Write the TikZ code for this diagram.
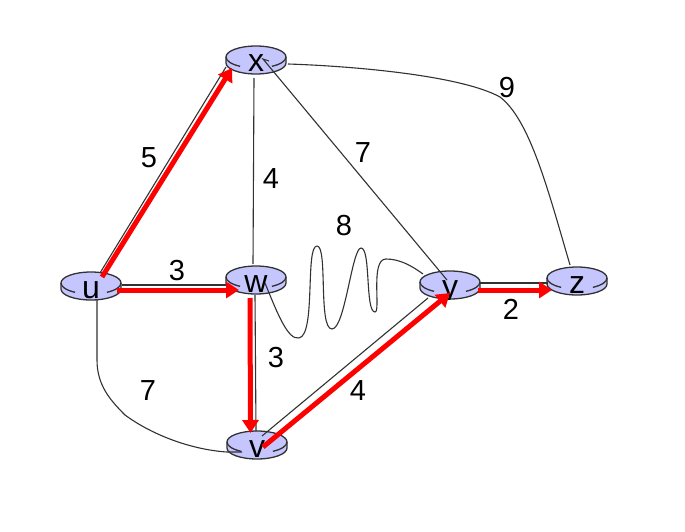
\documentclass[tikz,border=0pt]{standalone}
\usepackage{fontspec}
\setmainfont{Liberation Sans}
\usetikzlibrary{arrows.meta,calc}
\definecolor{routerfill}{RGB}{198,198,255}
\definecolor{linkcol}{RGB}{50,50,50}
\tikzset{
  routeredge/.style={draw=linkcol,line width=1.3pt,fill=routerfill},
  routerinner/.style={draw=linkcol,line width=1.3pt},
  routertext/.style={inner sep=0pt,minimum width=60pt,minimum height=28pt,text height=24pt,text depth=0pt,font=\fontsize{32}{34}\selectfont,text=black},
  link/.style={draw=linkcol,line width=1.1pt},
  treelink/.style={draw=red,line width=5pt,-{Triangle[length=13pt,width=16pt]}},
  weight/.style={inner sep=0pt,font=\fontsize{29}{31}\selectfont,text=black}
}
\newcommand{\routernode}[4]{%
  \begin{scope}[shift={(#2,#3)}]
    \path[routeredge] (-30,-3) -- (-30,3) arc[start angle=180,end angle=360,x radius=30pt,y radius=11pt]
      -- (30,-3) arc[start angle=0,end angle=180,x radius=30pt,y radius=11pt] -- cycle;
    \path[routerinner] (-30,-3) arc[start angle=180,end angle=238,x radius=30pt,y radius=11pt];
    \path[routerinner] (30,-3) arc[start angle=360,end angle=302,x radius=30pt,y radius=11pt];
    \clip (-30,-14) rectangle (30,14);
    \node[routertext] (#1) at (0,0) {#4};
  \end{scope}
}
\begin{document}
\begin{tikzpicture}[x=1pt,y=-1pt]
\useasboundingbox (0,0) rectangle (685,532);
\fill[white] (0,0) rectangle (685,532);
\routernode{x}{256}{60}{x}
\routernode{u}{91}{286}{u}
\routernode{w}{256}{280}{w}
\routernode{y}{450}{285}{y}
\routernode{z}{577}{281}{z}
\routernode{v}{257}{445}{v}
% thin links
\path[link] ($(u)+(9,-13)$) -- ($(x)+(-30,7)$);
\path[link] ($(u)+(31,-1)$) -- ($(w)+(-30,5)$);
\path[link] ($(w)+(-1,15)$) -- ($(v)+(-1,-14)$);
\path[link] ($(x)+(-2,18)$) -- ($(w)+(-3,-16)$);
\path[link] ($(v)+(5,-9)$) -- ($(y)+(-22,13)$);
\path[link] ($(y)+(30,-2)$) -- ($(z)+(-29,2)$);
\path[link] ($(x)+(13,1)$) -- ($(x)+(7,-1)$) -- ($(y)+(-3,-5)$);
\path[link] ($(x)+(32,4)$) .. controls (350,66) and (460,75) .. (500,97)
  .. controls (530,120) and (548,190) .. ($(z)+(-7,-16)$);
\path[link] ($(u)+(6,14)$) -- (97,360) .. controls (97,385) and (110,400) .. (125,415)
  .. controls (155,437) and (195,450) .. (227,452) -- ($(v)+(-15,7)$);
\path[link] ($(w)+(9,3)$) .. controls (278,315) and (288,340) .. (299,338)
  .. controls (316,335) and (305,246) .. (317,246)
  .. controls (328,246) and (318,329) .. (332,329)
  .. controls (345,329) and (352,248) .. (361,248)
  .. controls (371,248) and (365,312) .. (375,312)
  .. controls (381,312) and (370,259) .. (386,259)
  .. controls (400,259) and (412,266) .. ($(y)+(-27,-11)$);
% shortest path tree
\path[treelink] ($(u)+(11,-9)$) -- ($(x)+(-24,8)$);
\path[treelink] ($(u)+(26,4)$) -- ($(w)+(-17,10)$);
\path[treelink] ($(w)+(-6,18)$) -- ($(v)+(-6.5,-12)$);
\path[treelink] ($(v)+(6,2)$) -- ($(y)+(0,8)$);
\path[treelink] ($(y)+(28,5)$) -- ($(z)+(-25,9)$);
% weights
\node[weight] (wa) at (149,158) {5};
\node[weight] (wb) at (271,179) {4};
\node[weight] (wc) at (363,153) {7};
\node[weight] (wd) at (507,88) {9};
\node[weight] (we) at (344,226) {8};
\node[weight] (wf) at (177,271) {3};
\node[weight] (wg) at (276,358) {3};
\node[weight] (wh) at (148,391) {7};
\node[weight] (wi) at (358,391) {4};
\node[weight] (wj) at (511,309) {2};
\end{tikzpicture}
\end{document}
